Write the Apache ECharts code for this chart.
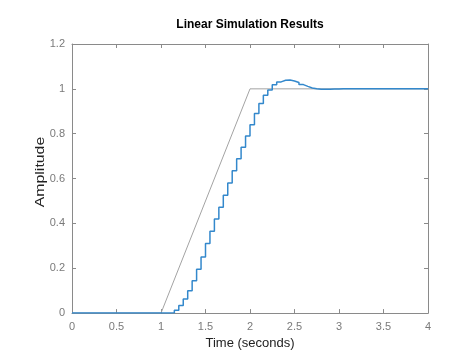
<!DOCTYPE html>
<html>
<head>
<meta charset="utf-8">
<script src="https://cdn.jsdelivr.net/npm/echarts@6/dist/echarts.min.js"></script>
<style>
html,body{margin:0;padding:0;background:#fff;}
#chart{width:474px;height:355px;}
</style>
</head>
<body>
<div id="chart"></div>
<script>
// Sample time (seconds) of the discrete output
var sampleTime = 0.05;
// Simulated output (stairs), one value per sample from t = 0 to t = 4
var outputValues = [
  0,0,0,0,0,0,0,0,0,0, 0,0,0,0,0,0,0,0,0,0, 0,0,
  0.001, 0.013, 0.034, 0.063, 0.100, 0.144, 0.196, 0.250, 0.310, 0.365,
  0.420, 0.472, 0.525, 0.580, 0.635, 0.688, 0.740, 0.790, 0.840, 0.890,
  0.935, 0.972, 0.995, 1.018, 1.031, 1.038, 1.039, 1.035, 1.028, 1.019,
  1.011, 1.004, 1.000, 0.998, 0.998, 0.998, 0.999, 0.999, 1.000,
  1,1,1,1,1,1,1,1,1,1, 1,1,1,1,1,1,1,1,1,1
];
// Input signal (ramp then hold)
var inputTimes = [0, 1, 2, 4];
var inputValues = [0, 0, 1, 1];
// Axis ticks
var xTicks = [0, 0.5, 1, 1.5, 2, 2.5, 3, 3.5, 4];
var yTicks = [0, 0.2, 0.4, 0.6, 0.8, 1, 1.2];

var titleText = 'Linear Simulation Results';
var xLabel = 'Time (seconds)';
var yLabel = 'Amplitude';

var outputData = outputValues.map(function (v, i) { return [+(i * sampleTime).toFixed(2), v]; });
var inputData = inputTimes.map(function (t, i) { return [t, inputValues[i]]; });

var FONT = '"Liberation Sans", Arial, Helvetica, sans-serif';
var axisCol = '#8a8a8a';
var labelCol = '#7a7a7a';

var chart = echarts.init(document.getElementById('chart'), null, {renderer: 'canvas'});
var baseAxis = {
  type: 'value',
  splitLine: {show: false},
  axisLine: {show: true, onZero: false, lineStyle: {color: axisCol, width: 1}},
  axisTick: {show: true, inside: true, length: 4, lineStyle: {color: axisCol}},
};
chart.setOption({
  animation: false,
  backgroundColor: '#ffffff',
  grid: {left: 72, right: 46, top: 44, bottom: 39, containLabel: false},
  graphic: [{
    type: 'text', x: 250, y: 25,
    style: {text: titleText, font: 'bold 12px ' + FONT, fill: '#000', textAlign: 'center', textVerticalAlign: 'middle'}
  }, {
    type: 'text', x: 40, y: 172, rotation: Math.PI / 2, scaleX: 1.22,
    style: {text: yLabel, font: '13px ' + FONT, fill: '#222', textAlign: 'center', textVerticalAlign: 'middle'}
  }],
  xAxis: [
    Object.assign({}, baseAxis, {
      min: xTicks[0], max: xTicks[xTicks.length - 1], interval: xTicks[1] - xTicks[0],
      position: 'bottom',
      axisLabel: {color: labelCol, fontSize: 11, fontFamily: FONT, margin: 8},
      name: xLabel, nameLocation: 'middle', nameGap: 11,
      nameTextStyle: {color: '#222', fontSize: 13, fontFamily: FONT}
    }),
    Object.assign({}, baseAxis, {
      min: xTicks[0], max: xTicks[xTicks.length - 1], interval: xTicks[1] - xTicks[0],
      position: 'top', axisLabel: {show: false}
    })
  ],
  yAxis: [
    Object.assign({}, baseAxis, {
      min: yTicks[0], max: yTicks[yTicks.length - 1], interval: 0.2,
      position: 'left',
      axisLabel: {color: labelCol, fontSize: 11, fontFamily: FONT, margin: 7}
    }),
    Object.assign({}, baseAxis, {
      min: yTicks[0], max: yTicks[yTicks.length - 1], interval: 0.2,
      position: 'right', axisLabel: {show: false}
    })
  ],
  series: [
    {
      type: 'line', data: inputData, xAxisIndex: 0, yAxisIndex: 0,
      showSymbol: false, symbol: 'none',
      lineStyle: {color: '#a3a3a3', width: 1}, z: 2
    },
    {
      type: 'line', data: outputData, xAxisIndex: 0, yAxisIndex: 0,
      step: 'end', showSymbol: false, symbol: 'none',
      lineStyle: {color: '#3388cc', width: 1.5}, z: 3
    }
  ]
});
</script>
</body>
</html>
